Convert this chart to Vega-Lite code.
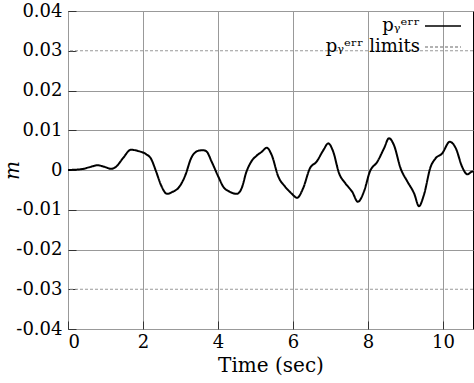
{
  "$schema": "https://vega.github.io/schema/vega-lite/v6.json",
  "width": 405,
  "height": 318,
  "autosize": {"type": "none"},
  "padding": {"left": 68, "top": 11, "right": 1, "bottom": 54},
  "background": "white",
  "config": {
    "view": {"stroke": "black", "strokeWidth": 1},
    "font": "DejaVu Serif",
    "axis": {
      "labelFont": "DejaVu Serif",
      "labelFontSize": 18,
      "labelColor": "black",
      "labelOverlap": false,
      "titleFont": "DejaVu Serif",
      "titleFontSize": 20,
      "titleFontWeight": "normal",
      "titleColor": "black",
      "ticks": true,
      "tickSize": -8,
      "tickColor": "#333333",
      "domain": false,
      "grid": true,
      "gridColor": "#999999",
      "gridWidth": 1
    }
  },
  "datasets": {
    "err": [
      {"t": 0, "v": 0, "s": "pᵧᵉʳʳ"},
      {"t": 0.35, "v": 0.0002, "s": "pᵧᵉʳʳ"},
      {"t": 0.57, "v": 0.0007, "s": "pᵧᵉʳʳ"},
      {"t": 0.79, "v": 0.0012, "s": "pᵧᵉʳʳ"},
      {"t": 0.97, "v": 0.0008, "s": "pᵧᵉʳʳ"},
      {"t": 1.15, "v": 0.0003, "s": "pᵧᵉʳʳ"},
      {"t": 1.28, "v": 0.0008, "s": "pᵧᵉʳʳ"},
      {"t": 1.46, "v": 0.0029, "s": "pᵧᵉʳʳ"},
      {"t": 1.68, "v": 0.0051, "s": "pᵧᵉʳʳ"},
      {"t": 1.86, "v": 0.0048, "s": "pᵧᵉʳʳ"},
      {"t": 2.08, "v": 0.0040, "s": "pᵧᵉʳʳ"},
      {"t": 2.21, "v": 0.0029, "s": "pᵧᵉʳʳ"},
      {"t": 2.35, "v": -0.0004, "s": "pᵧᵉʳʳ"},
      {"t": 2.48, "v": -0.0038, "s": "pᵧᵉʳʳ"},
      {"t": 2.64, "v": -0.0060, "s": "pᵧᵉʳʳ"},
      {"t": 2.79, "v": -0.0055, "s": "pᵧᵉʳʳ"},
      {"t": 2.97, "v": -0.0042, "s": "pᵧᵉʳʳ"},
      {"t": 3.13, "v": -0.0013, "s": "pᵧᵉʳʳ"},
      {"t": 3.28, "v": 0.0029, "s": "pᵧᵉʳʳ"},
      {"t": 3.46, "v": 0.0048, "s": "pᵧᵉʳʳ"},
      {"t": 3.60, "v": 0.0050, "s": "pᵧᵉʳʳ"},
      {"t": 3.70, "v": 0.0046, "s": "pᵧᵉʳʳ"},
      {"t": 3.83, "v": 0.0021, "s": "pᵧᵉʳʳ"},
      {"t": 4.01, "v": -0.0017, "s": "pᵧᵉʳʳ"},
      {"t": 4.14, "v": -0.0042, "s": "pᵧᵉʳʳ"},
      {"t": 4.32, "v": -0.0055, "s": "pᵧᵉʳʳ"},
      {"t": 4.50, "v": -0.0060, "s": "pᵧᵉʳʳ"},
      {"t": 4.63, "v": -0.0046, "s": "pᵧᵉʳʳ"},
      {"t": 4.76, "v": -0.0004, "s": "pᵧᵉʳʳ"},
      {"t": 4.90, "v": 0.0023, "s": "pᵧᵉʳʳ"},
      {"t": 5.03, "v": 0.0036, "s": "pᵧᵉʳʳ"},
      {"t": 5.17, "v": 0.0046, "s": "pᵧᵉʳʳ"},
      {"t": 5.30, "v": 0.0056, "s": "pᵧᵉʳʳ"},
      {"t": 5.43, "v": 0.0038, "s": "pᵧᵉʳʳ"},
      {"t": 5.61, "v": -0.0017, "s": "pᵧᵉʳʳ"},
      {"t": 5.79, "v": -0.0042, "s": "pᵧᵉʳʳ"},
      {"t": 5.96, "v": -0.0059, "s": "pᵧᵉʳʳ"},
      {"t": 6.11, "v": -0.0070, "s": "pᵧᵉʳʳ"},
      {"t": 6.27, "v": -0.0046, "s": "pᵧᵉʳʳ"},
      {"t": 6.45, "v": 0.0004, "s": "pᵧᵉʳʳ"},
      {"t": 6.63, "v": 0.0021, "s": "pᵧᵉʳʳ"},
      {"t": 6.81, "v": 0.0050, "s": "pᵧᵉʳʳ"},
      {"t": 6.94, "v": 0.0067, "s": "pᵧᵉʳʳ"},
      {"t": 7.08, "v": 0.0044, "s": "pᵧᵉʳʳ"},
      {"t": 7.22, "v": -0.0006, "s": "pᵧᵉʳʳ"},
      {"t": 7.40, "v": -0.0034, "s": "pᵧᵉʳʳ"},
      {"t": 7.58, "v": -0.0055, "s": "pᵧᵉʳʳ"},
      {"t": 7.73, "v": -0.0080, "s": "pᵧᵉʳʳ"},
      {"t": 7.89, "v": -0.0055, "s": "pᵧᵉʳʳ"},
      {"t": 8.05, "v": -0.0004, "s": "pᵧᵉʳʳ"},
      {"t": 8.25, "v": 0.0021, "s": "pᵧᵉʳʳ"},
      {"t": 8.43, "v": 0.0055, "s": "pᵧᵉʳʳ"},
      {"t": 8.56, "v": 0.0080, "s": "pᵧᵉʳʳ"},
      {"t": 8.69, "v": 0.0063, "s": "pᵧᵉʳʳ"},
      {"t": 8.87, "v": 0.0004, "s": "pᵧᵉʳʳ"},
      {"t": 9.05, "v": -0.0029, "s": "pᵧᵉʳʳ"},
      {"t": 9.23, "v": -0.0059, "s": "pᵧᵉʳʳ"},
      {"t": 9.36, "v": -0.0091, "s": "pᵧᵉʳʳ"},
      {"t": 9.49, "v": -0.0063, "s": "pᵧᵉʳʳ"},
      {"t": 9.67, "v": 0.0008, "s": "pᵧᵉʳʳ"},
      {"t": 9.80, "v": 0.0029, "s": "pᵧᵉʳʳ"},
      {"t": 9.98, "v": 0.0042, "s": "pᵧᵉʳʳ"},
      {"t": 10.18, "v": 0.0071, "s": "pᵧᵉʳʳ"},
      {"t": 10.34, "v": 0.0055, "s": "pᵧᵉʳʳ"},
      {"t": 10.51, "v": 0.0008, "s": "pᵧᵉʳʳ"},
      {"t": 10.65, "v": -0.0011, "s": "pᵧᵉʳʳ"},
      {"t": 10.78, "v": -0.0004, "s": "pᵧᵉʳʳ"},
      {"t": 10.83, "v": -0.0005, "s": "pᵧᵉʳʳ"}
    ],
    "limits": [
      {"lim": 0.03, "s": "pᵧᵉʳʳ limits"},
      {"lim": -0.03, "s": "pᵧᵉʳʳ limits"}
    ]
  },
  "encoding": {
    "y": {
      "type": "quantitative",
      "scale": {"domain": [-0.04, 0.04], "nice": false},
      "axis": {
        "values": [-0.04, -0.03, -0.02, -0.01, 0, 0.01, 0.02, 0.03, 0.04],
        "labelExpr": "abs(datum.value) < 1e-9 ? '0' : replace(format(datum.value, '.2f'), '−', '-')",
        "title": "m",
        "titleFontStyle": "italic",
        "titlePadding": -7,
        "labelPadding": 14,
        "gridOpacity": {"condition": {"test": "abs(abs(datum.value) - 0.03) < 0.001", "value": 0}, "value": 1}
      }
    },
    "color": {
      "field": "s", "type": "nominal",
      "scale": {"domain": ["pᵧᵉʳʳ", "pᵧᵉʳʳ limits"], "range": ["black", "#999999"]},
      "legend": {
        "title": null,
        "orient": "none",
        "legendX": 366,
        "legendY": 6,
        "padding": 0,
        "symbolType": "M-2.25,0H2.25",
        "symbolSize": 256,
        "symbolStrokeWidth": 1.5,
        "labelFont": "DejaVu Serif",
        "labelFontSize": 18,
        "labelColor": "black",
        "labelAlign": "right",
        "labelOffset": -32,
        "rowPadding": 3
      }
    },
    "strokeDash": {
      "field": "s", "type": "nominal",
      "scale": {"domain": ["pᵧᵉʳʳ", "pᵧᵉʳʳ limits"], "range": [[1, 0], [3, 2]]}
    }
  },
  "layer": [
    {
      "data": {"name": "limits"},
      "mark": {"type": "rule", "strokeWidth": 1},
      "encoding": {
        "y": {"field": "lim", "type": "quantitative"}
      }
    },
    {
      "data": {"name": "err"},
      "mark": {"type": "line", "strokeWidth": 2, "interpolate": "monotone", "clip": true},
      "encoding": {
        "x": {
          "field": "t", "type": "quantitative",
          "scale": {"domain": [0, 10.8], "nice": false, "zero": false},
          "axis": {"values": [0, 2, 4, 6, 8, 10], "title": "Time (sec)", "labelPadding": 12, "titlePadding": 4}
        },
        "y": {"field": "v", "type": "quantitative"}
      }
    }
  ]
}
